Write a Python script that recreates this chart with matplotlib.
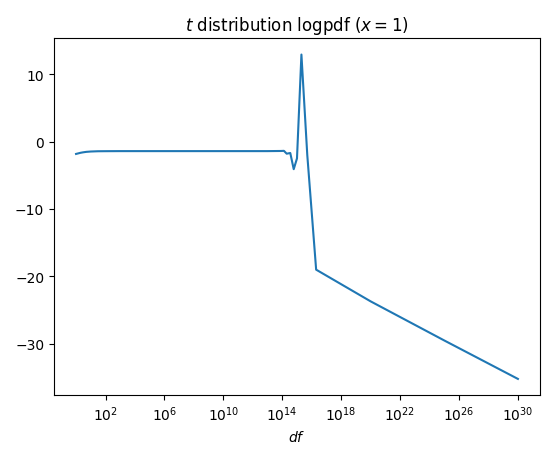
import matplotlib.pyplot as plt

# values
df = [1, 2, 3, 5, 10, 30, 100, 1e3, 1e5, 1e8, 1e11, 1e13, 8e13,
      1.3e14, 2e14, 3.5e14, 6e14, 1e15, 2e15, 5e15, 2e16, 1e20, 1e25, 1e30]
logpdf = [-1.838, -1.67, -1.60, -1.53, -1.48, -1.44, -1.43, -1.42, -1.42, -1.42,
          -1.42, -1.42, -1.40, -1.38, -1.8, -1.7, -4.1, -2.5, 12.9, -2.0,
          -19.0, -23.7, -29.5, -35.2]

fig, ax = plt.subplots(figsize=(5.55, 4.6), dpi=100)
ax.plot(df, logpdf)
ax.set_xscale("log")
ax.set_title("$t$ distribution logpdf ($x = 1$)")
ax.set_xlabel("$df$")
fig.tight_layout()
fig.savefig("out.png", dpi=100)
